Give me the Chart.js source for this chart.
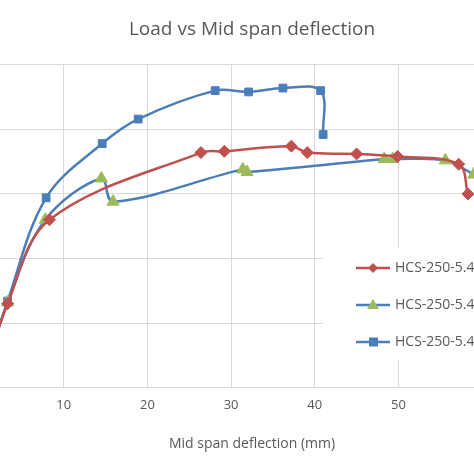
<!DOCTYPE html>
<html>
<head>
<meta charset="utf-8">
<script src="https://cdn.jsdelivr.net/npm/chart.js@4"></script>
<style>
  html, body { margin: 0; padding: 0; background: #fff; overflow: hidden; width: 474px; height: 474px; }
  #wrap { position: absolute; left: -28px; top: 0; width: 560px; height: 474px; }
</style>
</head>
<body>
<div id="wrap"><canvas id="grafico" width="560" height="474"></canvas></div>
<script>
// values: deflection (mm) and load
const seriesNames = ["HCS-250-5.4-1", "HCS-250-5.4-2", "HCS-250-5.4-3"];

const redX = [0, 3.3, 8.3, 26.4, 29.2, 37.2, 39.1, 45.0, 49.9, 57.2, 58.3];
const redY = [0, 65, 130, 182, 183, 187, 182, 181, 179, 173, 150];

const greenX = [0, 3.3, 7.8, 14.5, 15.9, 31.4, 31.9, 48.3, 49.3, 55.6, 59.0];
const greenY = [0, 66, 130, 162, 144, 169, 167, 177, 177, 176, 165];

const blueX = [0, 3.3, 7.9, 14.6, 18.9, 28.1, 32.1, 36.2, 40.7, 41.0];
const blueY = [0, 67, 147, 189, 208, 230, 229, 232, 230, 196];

const xTicks = [10, 20, 30, 40, 50, 60];

function puntos(xs, ys) {
    return xs.map((x, i) => ({ x: x, y: ys[i] }));
}

const LINE_BLUE = "#4a7ebb";

// legend box drawn inside the plot, like the original
const leyenda = {
    id: "leyenda",
    afterDraw(chart) {
        const ctx = chart.ctx;
        const ds = chart.data.datasets;
        ctx.save();
        ctx.fillStyle = "#fff";
        ctx.fillRect(351, 248, 250, 112);
        ds.forEach((d, i) => {
            const y = 268 + i * 37;
            ctx.strokeStyle = d.borderColor;
            ctx.lineWidth = 2.5;
            ctx.beginPath();
            ctx.moveTo(384, y);
            ctx.lineTo(418, y);
            ctx.stroke();
            ctx.fillStyle = d.pointBackgroundColor;
            ctx.beginPath();
            if (d.pointStyle === "rectRot") {
                ctx.moveTo(401, y - 5); ctx.lineTo(406, y); ctx.lineTo(401, y + 5); ctx.lineTo(396, y);
            } else if (d.pointStyle === "triangle") {
                ctx.moveTo(401, y - 6); ctx.lineTo(407, y + 4); ctx.lineTo(395, y + 4);
            } else {
                ctx.rect(397, y - 4.5, 9, 9);
            }
            ctx.closePath();
            ctx.fill();
            ctx.fillStyle = "#595959";
            ctx.font = "14px 'Open Sans', sans-serif";
            ctx.textBaseline = "middle";
            ctx.fillText(d.label, 423, y);
        });
        ctx.restore();
    }
};

new Chart("grafico", {
    type: "line",
    data: {
        datasets: [
            {
                label: seriesNames[0],
                data: puntos(redX, redY),
                borderColor: "#c0504d",
                pointBackgroundColor: "#c0504d",
                pointBorderColor: "#c0504d",
                pointStyle: "rectRot",
                pointRadius: 6
            },
            {
                label: seriesNames[1],
                data: puntos(greenX, greenY),
                borderColor: LINE_BLUE,
                pointBackgroundColor: "#9bbb59",
                pointBorderColor: "#9bbb59",
                pointStyle: "triangle",
                pointRadius: 7
            },
            {
                label: seriesNames[2],
                data: puntos(blueX, blueY),
                borderColor: LINE_BLUE,
                pointBackgroundColor: LINE_BLUE,
                pointBorderColor: LINE_BLUE,
                pointStyle: "rect",
                pointRadius: 5.5
            }
        ]
    },
    options: {
        responsive: false,
        animation: false,
        layout: { padding: { left: 0, right: 0, top: 8, bottom: 18 } },
        elements: { line: { borderWidth: 2.5, tension: 0.35, fill: false } },
        plugins: {
            legend: { display: false },
            tooltip: { enabled: false },
            title: {
                display: true,
                text: "Load vs Mid span deflection",
                color: "#595959",
                font: { family: "'Open Sans', sans-serif", size: 19, weight: "normal" },
                padding: { top: 10, bottom: 24 }
            }
        },
        scales: {
            x: {
                type: "linear",
                min: 0,
                max: 65,
                afterBuildTicks: (axis) => { axis.ticks = xTicks.map(v => ({ value: v })); },
                grid: { color: "#d9d9d9", drawTicks: false },
                border: { color: "#d9d9d9" },
                ticks: { color: "#595959", font: { family: "'Open Sans', sans-serif", size: 13 }, padding: 10 },
                title: {
                    display: true,
                    text: "Mid span deflection (mm)",
                    color: "#595959",
                    font: { family: "'Open Sans', sans-serif", size: 14 },
                    padding: { top: 12 }
                }
            },
            y: {
                min: 0,
                max: 250,
                ticks: { display: false, stepSize: 50 },
                grid: { color: "#d9d9d9", drawTicks: false },
                border: { display: false }
            }
        }
    },
    plugins: [leyenda]
});
</script>
</body>
</html>
